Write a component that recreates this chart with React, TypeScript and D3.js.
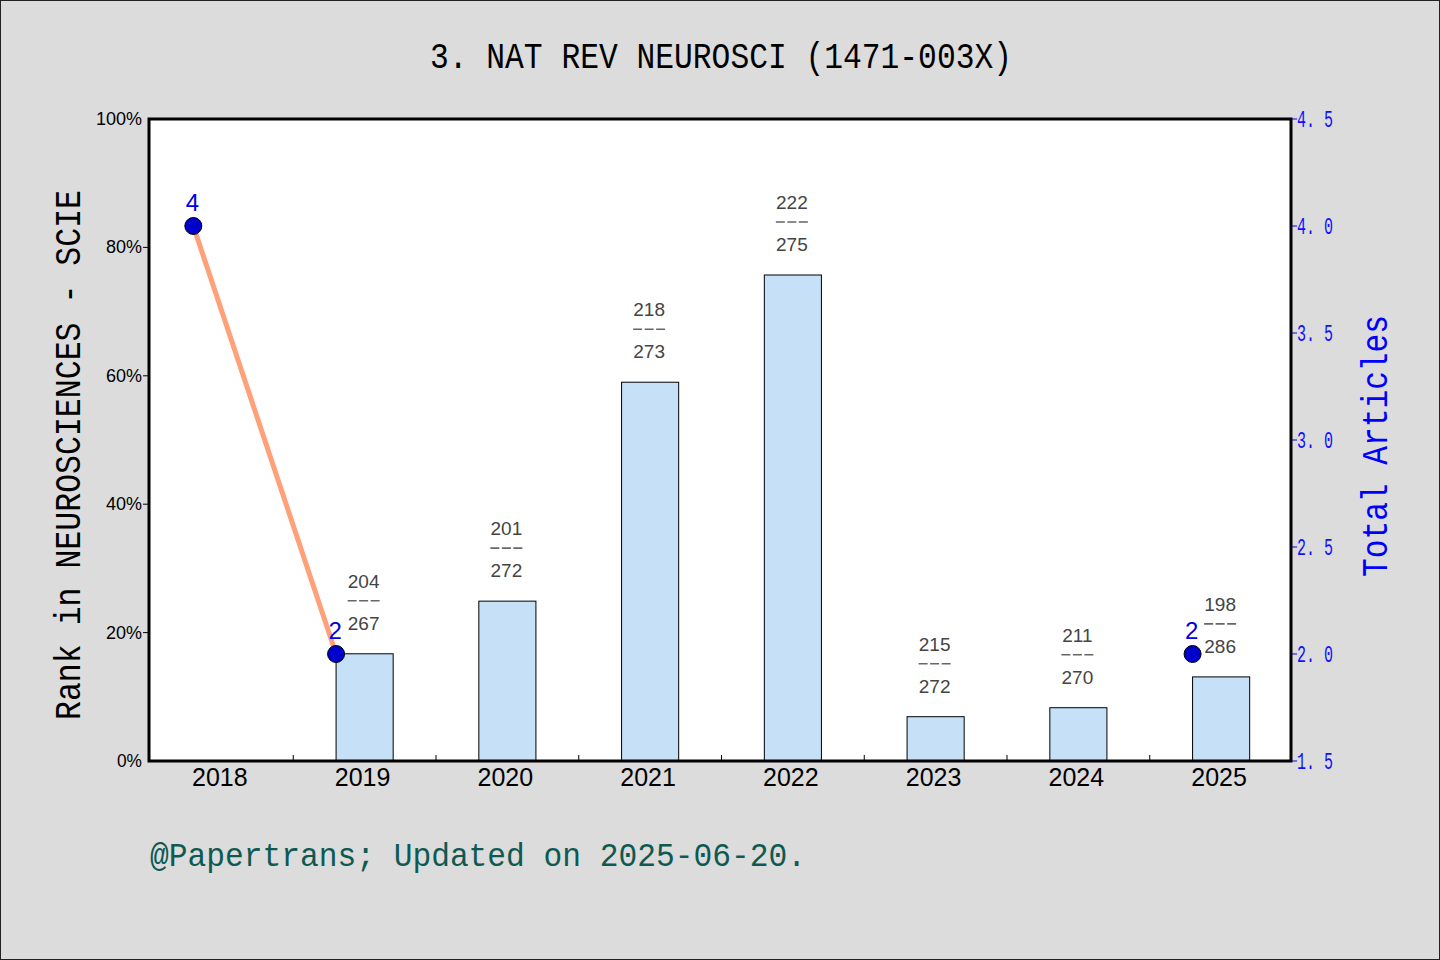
import React from 'react';
import * as d3 from 'd3';

const years = ['2018', '2019', '2020', '2021', '2022', '2023', '2024', '2025'];
// rank percentile bar heights (%)
const rankPct = [null, 16.7, 24.9, 59.0, 75.7, 6.9, 8.3, 13.1];
const rankPos = [null, 204, 201, 218, 222, 215, 211, 198];
const rankTotal = [null, 267, 272, 273, 275, 272, 270, 286];
const articles = [4, 2, null, null, null, null, null, 2];
const leftTicks = [0, 20, 40, 60, 80, 100];
const rightTicks = [1.5, 2.0, 2.5, 3.0, 3.5, 4.0, 4.5];

const W = 1440;
const H = 960;
const margin = { top: 119, right: 149, bottom: 199, left: 149 };
const mono = "'Liberation Mono', 'DejaVu Sans Mono', monospace";
const sans = "'Liberation Sans', Arial, sans-serif";

const App = () => {
  const innerW = W - margin.left - margin.right;
  const innerH = H - margin.top - margin.bottom;

  const x = d3.scaleBand().domain(years).range([0, innerW]).padding(0);
  const yL = d3.scaleLinear().domain([0, 100]).range([innerH, 0]);
  const yR = d3.scaleLinear().domain([1.5, 4.5]).range([innerH, 0]);
  const barW = x.bandwidth() * 0.4;
  const cx = (yr) => x(yr) + x.bandwidth() / 2 + 1.5;

  // points sit on the left edge of each bar
  const px = (i) => cx(years[i]) - barW / 2;

  const line = d3.line()
    .defined(d => d.v != null)
    .x(d => px(d.i))
    .y(d => yR(d.v));
  const lineData = articles.map((v, i) => ({ v, i }));

  return (
    <svg width={W} height={H} style={{ position: 'absolute', left: 0, top: 0, display: 'block' }}>
      <rect x={0.5} y={0.5} width={W - 1} height={H - 1} fill="#dcdcdc" stroke="#222" strokeWidth={1} />

      <text x={721} y={68} textAnchor="middle" fontFamily={mono} fontSize={36}
        textLength={582} lengthAdjust="spacingAndGlyphs" fill="#000">
        3. NAT REV NEUROSCI (1471-003X)
      </text>

      <g transform={`translate(${margin.left},${margin.top})`}>
        <rect x={0} y={0} width={innerW} height={innerH} fill="#fff" />

        {years.map((yr, i) => rankPct[i] == null ? null : (
          <g key={yr}>
            <rect x={cx(yr) - barW / 2} y={yL(rankPct[i])}
              width={barW} height={innerH - yL(rankPct[i])}
              fill="#c5e0f7" stroke="#000" strokeWidth={1} />
            <text x={cx(yr) - 1} y={yL(rankPct[i]) - 66} textAnchor="middle"
              fontFamily={sans} fontSize={19} fill="#444">{rankPos[i]}</text>
            <line x1={cx(yr) - 17} x2={cx(yr) + 15} y1={yL(rankPct[i]) - 53} y2={yL(rankPct[i]) - 53}
              stroke="#666" strokeWidth={1.6} strokeDasharray="9 2.5" />
            <text x={cx(yr) - 1} y={yL(rankPct[i]) - 24} textAnchor="middle"
              fontFamily={sans} fontSize={19} fill="#444">{rankTotal[i]}</text>
          </g>
        ))}

        <path d={line(lineData)} fill="none" stroke="#ffa07a" strokeWidth={5} />

        {lineData.map(d => d.v == null ? null : (
          <g key={d.i}>
            <circle cx={px(d.i)} cy={yR(d.v)} r={8.5} fill="#0000cc" stroke="#000" strokeWidth={1} />
            <text x={px(d.i) - 1} y={yR(d.v) - 15} textAnchor="middle" fontFamily={sans}
              fontSize={24} fill="#0000dd">{d.v}</text>
          </g>
        ))}

        {/* left axis */}
        {leftTicks.map(t => (
          <g key={t} transform={`translate(0,${yL(t)})`}>
            {t !== 0 && t !== 100 && <line x1={-6} x2={0} stroke="#000" />}
            <text x={-7} y={6} textAnchor="end" fontFamily={sans} fontSize={18}
              textLength={t === 100 ? 46 : t === 0 ? 25 : 36} lengthAdjust="spacingAndGlyphs">{t}%</text>
          </g>
        ))}

        {/* right axis */}
        {rightTicks.map(t => (
          <g key={t} transform={`translate(${innerW},${yR(t)})`}>
            <line x1={0} x2={6} stroke="#0000ff" />
            <text x={6} y={8} fontFamily={mono} fontSize={23} fill="#1010ff"
              textLength={36} lengthAdjust="spacingAndGlyphs">{t.toFixed(1).replace('.', '. ')}</text>
          </g>
        ))}

        {/* x axis */}
        {years.slice(1).map(yr => (
          <line key={yr} x1={x(yr) + 1.5} x2={x(yr) + 1.5} y1={innerH} y2={innerH - 6} stroke="#000" />
        ))}
        {years.map(yr => (
          <text key={yr} x={cx(yr) - 2} y={innerH + 25} textAnchor="middle"
            fontFamily={sans} fontSize={25} fill="#000">{yr}</text>
        ))}

        <rect x={0} y={0} width={innerW} height={innerH} fill="none" stroke="#000" strokeWidth={3} />
      </g>

      <text transform="translate(80,455) rotate(-90)" textAnchor="middle" fontFamily={mono}
        fontSize={37} textLength={530} lengthAdjust="spacingAndGlyphs" fill="#000">
        Rank in NEUROSCIENCES - SCIE
      </text>
      <text transform="translate(1387,446) rotate(-90)" textAnchor="middle" fontFamily={mono}
        fontSize={37} textLength={262} lengthAdjust="spacingAndGlyphs" fill="#0000ff">
        Total Articles
      </text>

      <text x={150} y={866} fontFamily={mono} fontSize={34} textLength={656}
        lengthAdjust="spacingAndGlyphs" fill="#0e5a52">
        @Papertrans; Updated on 2025-06-20.
      </text>
    </svg>
  );
};

export default App;
